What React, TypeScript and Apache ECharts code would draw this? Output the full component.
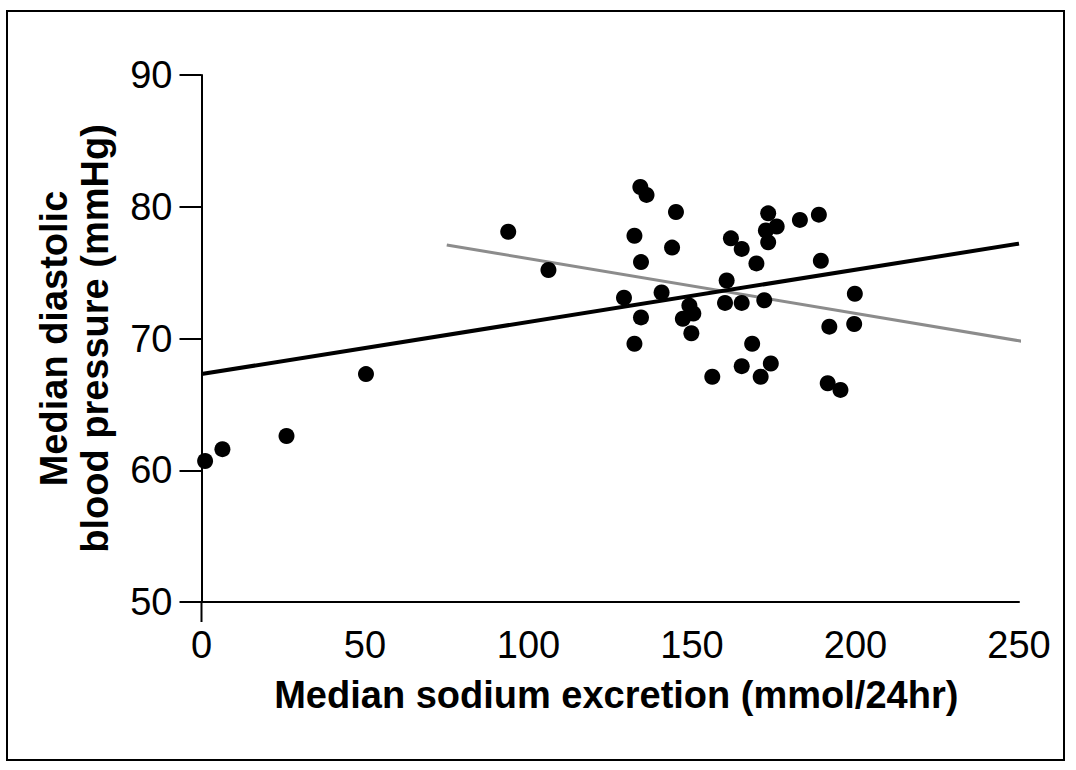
import React, { useEffect, useRef } from "react";
import * as echarts from "echarts";

// Median sodium excretion (mmol/24hr) per population
const sodiumExcretion = [
  1.1, 6.4, 26.0, 50.3, 93.8, 106.1, 129.2, 132.4, 132.4, 134.2, 136.1,
  134.4, 134.4, 140.7, 143.9, 145.1, 147.2, 149.2, 149.8, 150.4, 156.2,
  160.1, 160.6, 161.9, 165.2, 165.2, 165.2, 168.4, 169.7, 171.0, 172.1,
  172.6, 173.3, 173.3, 174.1, 175.9, 183.0, 188.8, 189.4, 191.5, 192.0,
  195.4, 199.6, 199.8,
];

// Median diastolic blood pressure (mmHg) per population
const diastolicBP = [
  60.7, 61.6, 62.6, 67.3, 78.1, 75.2, 73.1, 77.8, 69.6, 81.5, 80.9,
  75.8, 71.6, 73.5, 76.9, 79.6, 71.5, 72.5, 70.4, 71.9, 67.1,
  72.7, 74.4, 77.6, 76.8, 72.7, 67.9, 69.6, 75.7, 67.1, 72.9,
  78.2, 79.5, 77.3, 68.1, 78.5, 79.0, 79.4, 75.9, 66.6, 70.9,
  66.1, 71.1, 73.4,
];

// Regression line across all populations
const fitAllX = [0, 250];
const fitAllY = [67.3, 77.2];

// Regression line excluding the low-sodium populations
const fitSubsetX = [75, 253];
const fitSubsetY = [77.1, 69.7];

// Axis ranges and tick spacing
const xRange = [0, 250];
const xStep = 50;
const yRange = [50, 90];
const yStep = 10;

const FONT = "'Liberation Sans', Arial, Helvetica, sans-serif";

export default function App() {
  const ref = useRef<HTMLDivElement>(null);

  useEffect(() => {
    document.body.style.margin = "0";
    const el = ref.current;
    if (!el) return;
    const chart = echarts.init(el, null, { renderer: "svg" });

    const points = sodiumExcretion.map((x, i) => [x, diastolicBP[i]]);
    const allLine = fitAllX.map((x, i) => [x, fitAllY[i]]);
    const subsetLine = fitSubsetX.map((x, i) => [x, fitSubsetY[i]]);

    chart.setOption({
      animation: false,
      backgroundColor: "#ffffff",
      grid: { left: 201.5, right: 57, top: 75, bottom: 168, containLabel: false },
      xAxis: {
        type: "value",
        min: xRange[0],
        max: xRange[1],
        interval: xStep,
        name: "Median sodium excretion (mmol/24hr)",
        nameLocation: "middle",
        nameGap: 74,
        nameTextStyle: {
          fontFamily: FONT,
          fontWeight: "bold",
          fontSize: 38,
          color: "#000",
          padding: [0, 0, 0, 12],
        },
        axisLine: { show: true, lineStyle: { color: "#000", width: 2 } },
        axisTick: { show: false },
        axisLabel: {
          fontFamily: FONT,
          fontSize: 38,
          color: "#000",
          margin: 24,
        },
        splitLine: { show: false },
      },
      yAxis: {
        type: "value",
        min: yRange[0],
        max: yRange[1],
        interval: yStep,
        name: "Median diastolic\nblood pressure (mmHg)",
        nameLocation: "middle",
        nameRotate: 90,
        nameGap: 86,
        nameTextStyle: {
          fontFamily: FONT,
          fontWeight: "bold",
          fontSize: 38,
          lineHeight: 41,
          color: "#000",
        },
        axisLine: { show: true, lineStyle: { color: "#000", width: 2 } },
        axisTick: {
          show: true,
          length: 22,
          inside: false,
          lineStyle: { color: "#000", width: 2 },
        },
        axisLabel: {
          fontFamily: FONT,
          fontSize: 38,
          color: "#000",
          margin: 29,
        },
        splitLine: { show: false },
      },
      series: [
        {
          type: "line",
          data: allLine,
          symbol: "none",
          clip: false,
          lineStyle: { color: "#000", width: 4 },
          z: 3,
        },
        {
          type: "line",
          data: subsetLine,
          symbol: "none",
          clip: false,
          lineStyle: { color: "#8c8c8c", width: 3 },
          z: 2,
        },
        {
          type: "scatter",
          data: points,
          symbol: "circle",
          symbolSize: 16,
          itemStyle: { color: "#000", opacity: 1 },
          z: 4,
        },
      ],
    });

    // Frame around the figure and the short downward stub at x = 0
    const [x0, y0] = chart.convertToPixel({ gridIndex: 0 }, [xRange[0], yRange[0]]);
    chart.setOption({
      graphic: [
        {
          type: "rect",
          shape: { x: 7, y: 11, width: 1057, height: 749 },
          style: { fill: "none", stroke: "#000", lineWidth: 2 },
          silent: true,
        },
        {
          type: "line",
          shape: { x1: x0, y1: y0, x2: x0, y2: y0 + 20 },
          style: { stroke: "#000", lineWidth: 2 },
          silent: true,
        },
      ],
    });

    return () => chart.dispose();
  }, []);

  return <div ref={ref} style={{ width: 1076, height: 770 }} />;
}
